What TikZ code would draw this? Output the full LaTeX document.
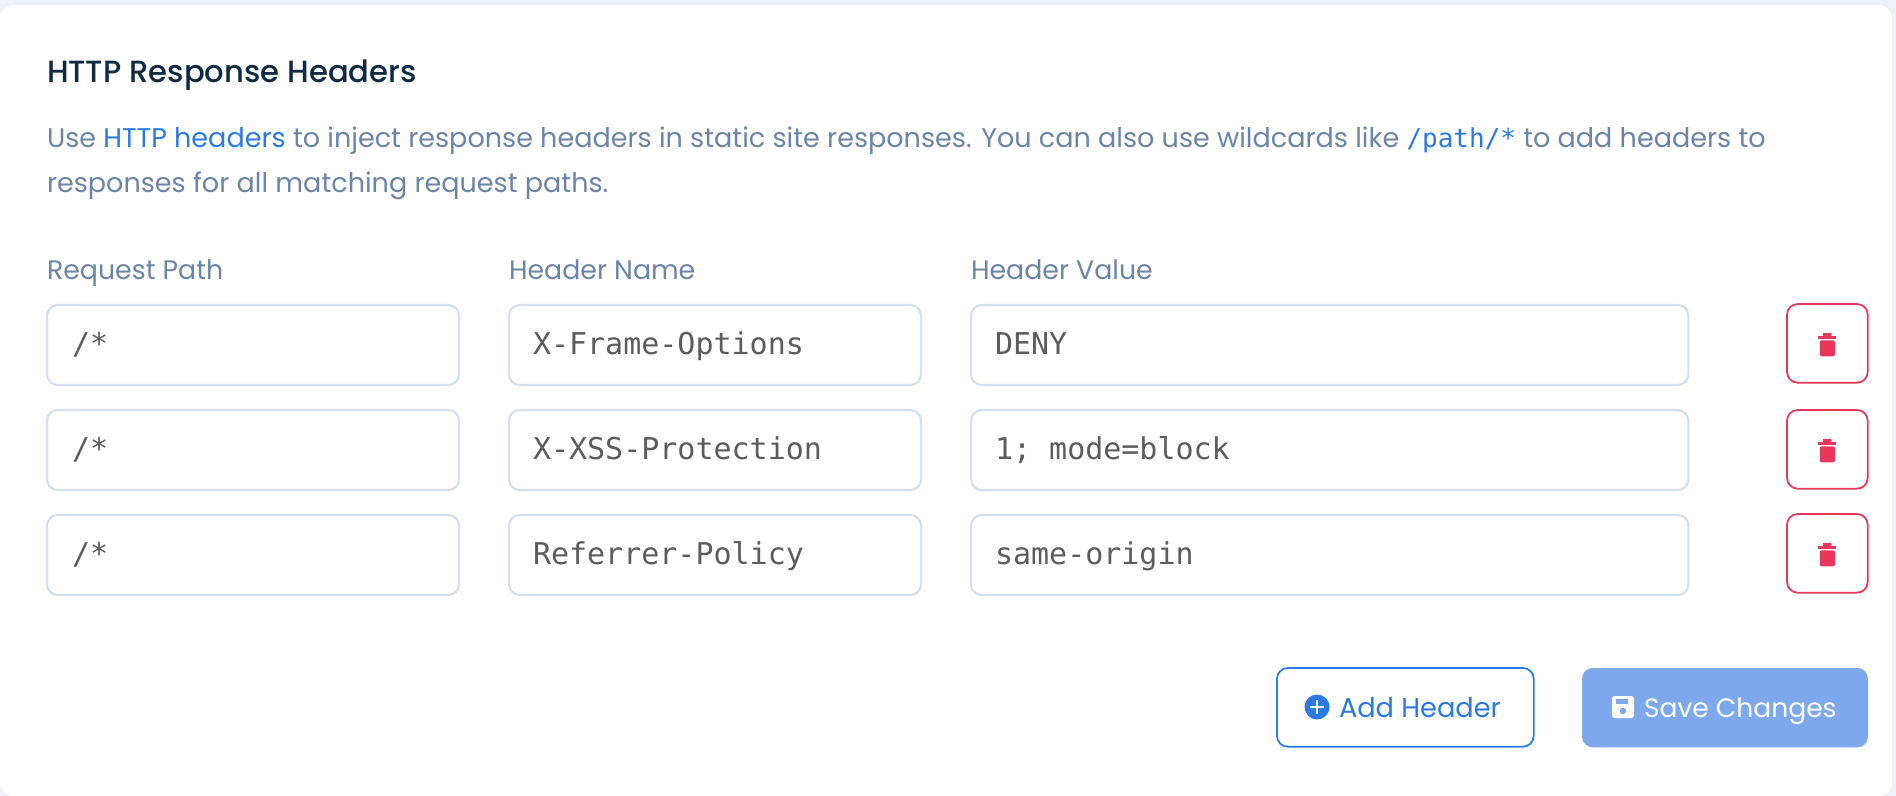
\documentclass[tikz,border=0pt]{standalone}
\usepackage{fontspec}
\setmainfont{Poppins}
\setmonofont{DejaVu Sans Mono}
\newfontfamily\titlefont{Poppins Medium}
\usetikzlibrary{positioning}
\definecolor{pagebg}{HTML}{EEF2F8}
\definecolor{titleink}{HTML}{102A43}
\definecolor{mutedink}{HTML}{6C84A6}
\definecolor{linkblue}{HTML}{2B7AE4}
\definecolor{fieldline}{HTML}{D3DFEE}
\definecolor{fieldink}{HTML}{5C5C5C}
\definecolor{dangerred}{HTML}{E8365A}
\definecolor{saveblue}{HTML}{7DA9EC}
\tikzset{x=0.75pt, y=-0.75pt,
every node/.style={inner sep=0pt, outer sep=0pt},
titletext/.style={anchor=base west, text=titleink, font=\titlefont\fontsize{23}{27}\selectfont},
introtext/.style={anchor=base west, text=mutedink, font=\fontsize{20.28}{25}\selectfont},
labeltext/.style={anchor=base west, text=mutedink, font=\fontsize{20.1}{25}\selectfont},
fieldbox/.style={draw=fieldline, line width=1.6pt, fill=white, rounded corners=8pt, anchor=north west, minimum height=60pt},
% text inside a field
fieldtext/.style={anchor=base west, text=fieldink, font=\ttfamily\fontsize{22.5}{27}\selectfont},
deletebox/.style={draw=dangerred, line width=1.3pt, fill=white, rounded corners=8pt, anchor=north west, minimum width=60.5pt, minimum height=59pt},
addbox/.style={draw=linkblue, line width=1.3pt, fill=white, rounded corners=8pt, anchor=north west, minimum width=192.5pt, minimum height=59pt},
savebox/.style={fill=saveblue, rounded corners=8pt, anchor=north west, minimum width=214.5pt, minimum height=59.5pt},
btntext/.style={anchor=base west, font=\fontsize{20.4}{25}\selectfont},
trashicon/.pic={
	\fill[dangerred] (-9,-7) rectangle (9,-4);
	\fill[dangerred] (-4,-10) rectangle (4,-7);
	\fill[dangerred, rounded corners=1.5pt] (-7.5,-3) rectangle (7.5,13);
}}
\begin{document}
\begin{tikzpicture}
	\useasboundingbox (0,0) rectangle (1896,796);
	\fill[pagebg] (0,0) rectangle (1896,796);
	\fill[white, rounded corners=10pt] (0,5) rectangle (1892,796);

	\node[titletext] (title) at (47,82) {HTTP Response Headers};
	\node[introtext] (intro1) at (47,147) {Use \textcolor{linkblue}{HTTP headers} to inject response headers in static site responses. You can also use wildcards like \textcolor{linkblue}{\ttfamily\fontsize{19.5}{25}\selectfont/path/*} to add headers to};
	\node[introtext] (intro2) at (47,192) {responses for all matching request paths.};

	\node[labeltext] (lpath) at (47,279) {Request Path};
	\node[labeltext] (lname) at (509,279) {Header Name};
	\node[labeltext] (lvalue) at (971,279) {Header Value};

	% first row
	\node[fieldbox, minimum width=309pt] (p1) at (47,305) {};
	\node[fieldbox, minimum width=309pt] (n1) at (509,305) {};
	\node[fieldbox, minimum width=538pt] (v1) at (971,305) {};
	\node[deletebox] (d1) at (1787,304) {};
	\node[fieldtext] (tp1) at (72,354) {/*};
	\node[fieldtext] (tn1) at (533,354) {X-Frame-Options};
	\node[fieldtext] (tv1) at (995,354) {DENY};
	\pic at (d1.center) {trashicon};

	% second row
	\node[fieldbox, minimum width=309pt] (p2) at (47,410) {};
	\node[fieldbox, minimum width=309pt] (n2) at (509,410) {};
	\node[fieldbox, minimum width=538pt] (v2) at (971,410) {};
	\node[deletebox] (d2) at (1787,410) {};
	\node[fieldtext] (tp2) at (72,459) {/*};
	\node[fieldtext] (tn2) at (533,459) {X-XSS-Protection};
	\node[fieldtext] (tv2) at (995,459) {1; mode=block};
	\pic at (d2.center) {trashicon};

	% third row
	\node[fieldbox, minimum width=309pt] (p3) at (47,515) {};
	\node[fieldbox, minimum width=309pt] (n3) at (509,515) {};
	\node[fieldbox, minimum width=538pt] (v3) at (971,515) {};
	\node[deletebox] (d3) at (1787,514) {};
	\node[fieldtext] (tp3) at (72,564) {/*};
	\node[fieldtext] (tn3) at (533,564) {Referrer-Policy};
	\node[fieldtext] (tv3) at (995,564) {same-origin};
	\pic at (d3.center) {trashicon};

	% buttons
	\node[addbox] (add) at (1277,668) {};
	\fill[linkblue] (1317,707) circle (12.5);
	\fill[white] (1316,700) rectangle (1318,714);
	\fill[white] (1310,706) rectangle (1324,708);
	\node[btntext, text=linkblue] (addlabel) at (1339,717) {Add Header};

	\node[savebox] (save) at (1582,668) {};
	\fill[white, rounded corners=2pt] (1612,696) rectangle (1634,718);
	\fill[saveblue] (1616,699) rectangle (1628,704);
	\fill[saveblue] (1623,711) circle (3.2);
	\node[btntext, text=white, font=\fontsize{19.9}{25}\selectfont] (savelabel) at (1644,717) {Save Changes};
\end{tikzpicture}
\end{document}
